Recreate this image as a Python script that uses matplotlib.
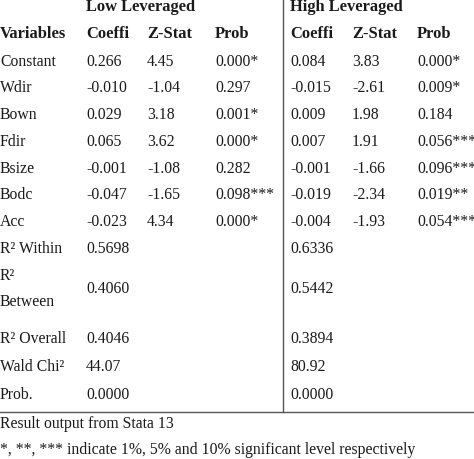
import matplotlib
matplotlib.use("Agg")
import matplotlib.pyplot as plt

variables = ["Constant","Wdir","Bown","Fdir","Bsize","Bodc","Acc"]
low_coef = ["0.266","-0.010","0.029","0.065","-0.001","-0.047","-0.023"]
low_z = ["4.45","-1.04","3.18","3.62","-1.08","-1.65","4.34"]
low_p = ["0.000*","0.297","0.001*","0.000*","0.282","0.098***","0.000*"]
high_coef = ["0.084","-0.015","0.009","0.007","-0.001","-0.019","-0.004"]
high_z = ["3.83","-2.61","1.98","1.91","-1.66","-2.34","-1.93"]
high_p = ["0.000*","0.009*","0.184","0.056***","0.096***","0.019**","0.054***"]
stat_labels = ["R² Within", None, "R² Overall", "Wald Chi²", "Prob."]
low_stats = ["0.5698","0.4060","0.4046","44.07","0.0000"]
high_stats = ["0.6336","0.5442","0.3894","80.92","0.0000"]

W, H = 474, 460
fig = plt.figure(figsize=(W/100, H/100), dpi=100)
ax = fig.add_axes([0,0,1,1])
ax.set_xlim(0, W); ax.set_ylim(H, 0); ax.axis("off")
fam = ["Liberation Serif"]
fs = 11.3
def t(x, y, s, bold=False):
    ax.text(x, y, s, fontsize=fs + (0.6 if bold else 0), family=fam,
            fontweight="bold" if bold else "normal",
            va="center", ha="left", color="#1a1a1a")

cols = [86, 147, 215, 290, 352, 417]
t(86, 7, "Low Leveraged", True); t(290, 7, "High Leveraged", True)
t(0, 34, "Variables", True)
for x, h in zip(cols, ["Coeffi","Z-Stat","Prob"]*2):
    t(x, 34, h, True)
y0, dy = 61.5, 26.8
for i, v in enumerate(variables):
    y = y0 + i*dy
    for x, s in zip([0]+cols, [v, low_coef[i], low_z[i], low_p[i], high_coef[i], high_z[i], high_p[i]]):
        t(x, y, s)
ys = [249, 289, 339, 367, 395]
for lab, y, a, b in zip(stat_labels, ys, low_stats, high_stats):
    if lab is None:
        t(0, 276, "R²"); t(0, 302, "Between")
    else:
        t(0, y, lab)
    t(86, y, a); t(290, y, b)
t(0, 424, "Result output from Stata 13")
t(0, 450, "*, **, *** indicate 1%, 5% and 10% significant level respectively")
ax.plot([283, 283], [0, 413], color="#555", lw=1)
ax.plot([0, W], [413, 413], color="#555", lw=1)
fig.savefig("out.png", dpi=100)
